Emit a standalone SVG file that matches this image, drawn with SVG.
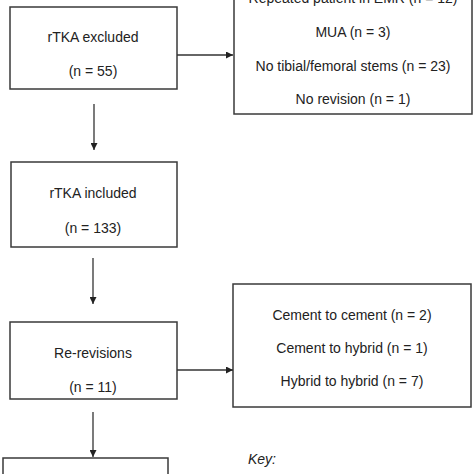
<svg xmlns="http://www.w3.org/2000/svg" width="474" height="474" viewBox="0 0 474 474">
<defs>
<style>
.box{fill:#fff;stroke:#3a3a3a;stroke-width:1.5}
.t{font-family:"Liberation Sans",Arial,sans-serif;font-size:14px;fill:#222;text-anchor:middle}
.ln{stroke:#333;stroke-width:1.3;fill:none}
</style>
<marker id="ah" viewBox="0 0 10 10" refX="10" refY="5" markerWidth="7" markerHeight="7" markerUnits="userSpaceOnUse" orient="auto">
<path d="M0,0 L10,5 L0,10 z" fill="#222"/>
</marker>
</defs>
<rect width="474" height="474" fill="#fff"/>
<g id="excluded">
<rect class="box" x="10" y="7" width="167" height="82"/>
<text class="t" x="93" y="42">rTKA excluded</text>
<text class="t" x="93" y="76">(n = 55)</text>
</g>
<g id="reasons">
<rect class="box" x="234" y="-5" width="238" height="119"/>
<text class="t" x="353" y="3">Repeated patient in EMR (n = 12)</text>
<text class="t" x="353" y="37">MUA (n = 3)</text>
<text class="t" x="353" y="71">No tibial/femoral stems (n = 23)</text>
<text class="t" x="353" y="104">No revision (n = 1)</text>
</g>
<g id="included">
<rect class="box" x="11" y="162" width="166" height="85"/>
<text class="t" x="93" y="198">rTKA included</text>
<text class="t" x="93" y="233">(n = 133)</text>
</g>
<g id="rerevisions">
<rect class="box" x="10" y="322" width="167" height="77"/>
<text class="t" x="93" y="358">Re-revisions</text>
<text class="t" x="93" y="392">(n = 11)</text>
</g>
<g id="types">
<rect class="box" x="233" y="284" width="238" height="123"/>
<text class="t" x="352" y="320">Cement to cement (n = 2)</text>
<text class="t" x="352" y="353">Cement to hybrid (n = 1)</text>
<text class="t" x="352" y="386">Hybrid to hybrid (n = 7)</text>
</g>
<g id="bottom">
<rect class="box" x="3" y="458" width="165" height="30"/>
</g>
<g id="key">
<text x="248" y="464" style="font-family:'Liberation Sans',Arial,sans-serif;font-size:14px;font-style:italic;fill:#222">Key:</text>
</g>
<g id="connectors">
<line class="ln" x1="177" y1="55" x2="233" y2="55" marker-end="url(#ah)"/>
<line class="ln" x1="94" y1="104" x2="94" y2="150" marker-end="url(#ah)"/>
<line class="ln" x1="93" y1="258" x2="93" y2="304" marker-end="url(#ah)"/>
<line class="ln" x1="177" y1="370" x2="233" y2="370" marker-end="url(#ah)"/>
<line class="ln" x1="93" y1="412" x2="93" y2="457" marker-end="url(#ah)"/>
</g>
</svg>
